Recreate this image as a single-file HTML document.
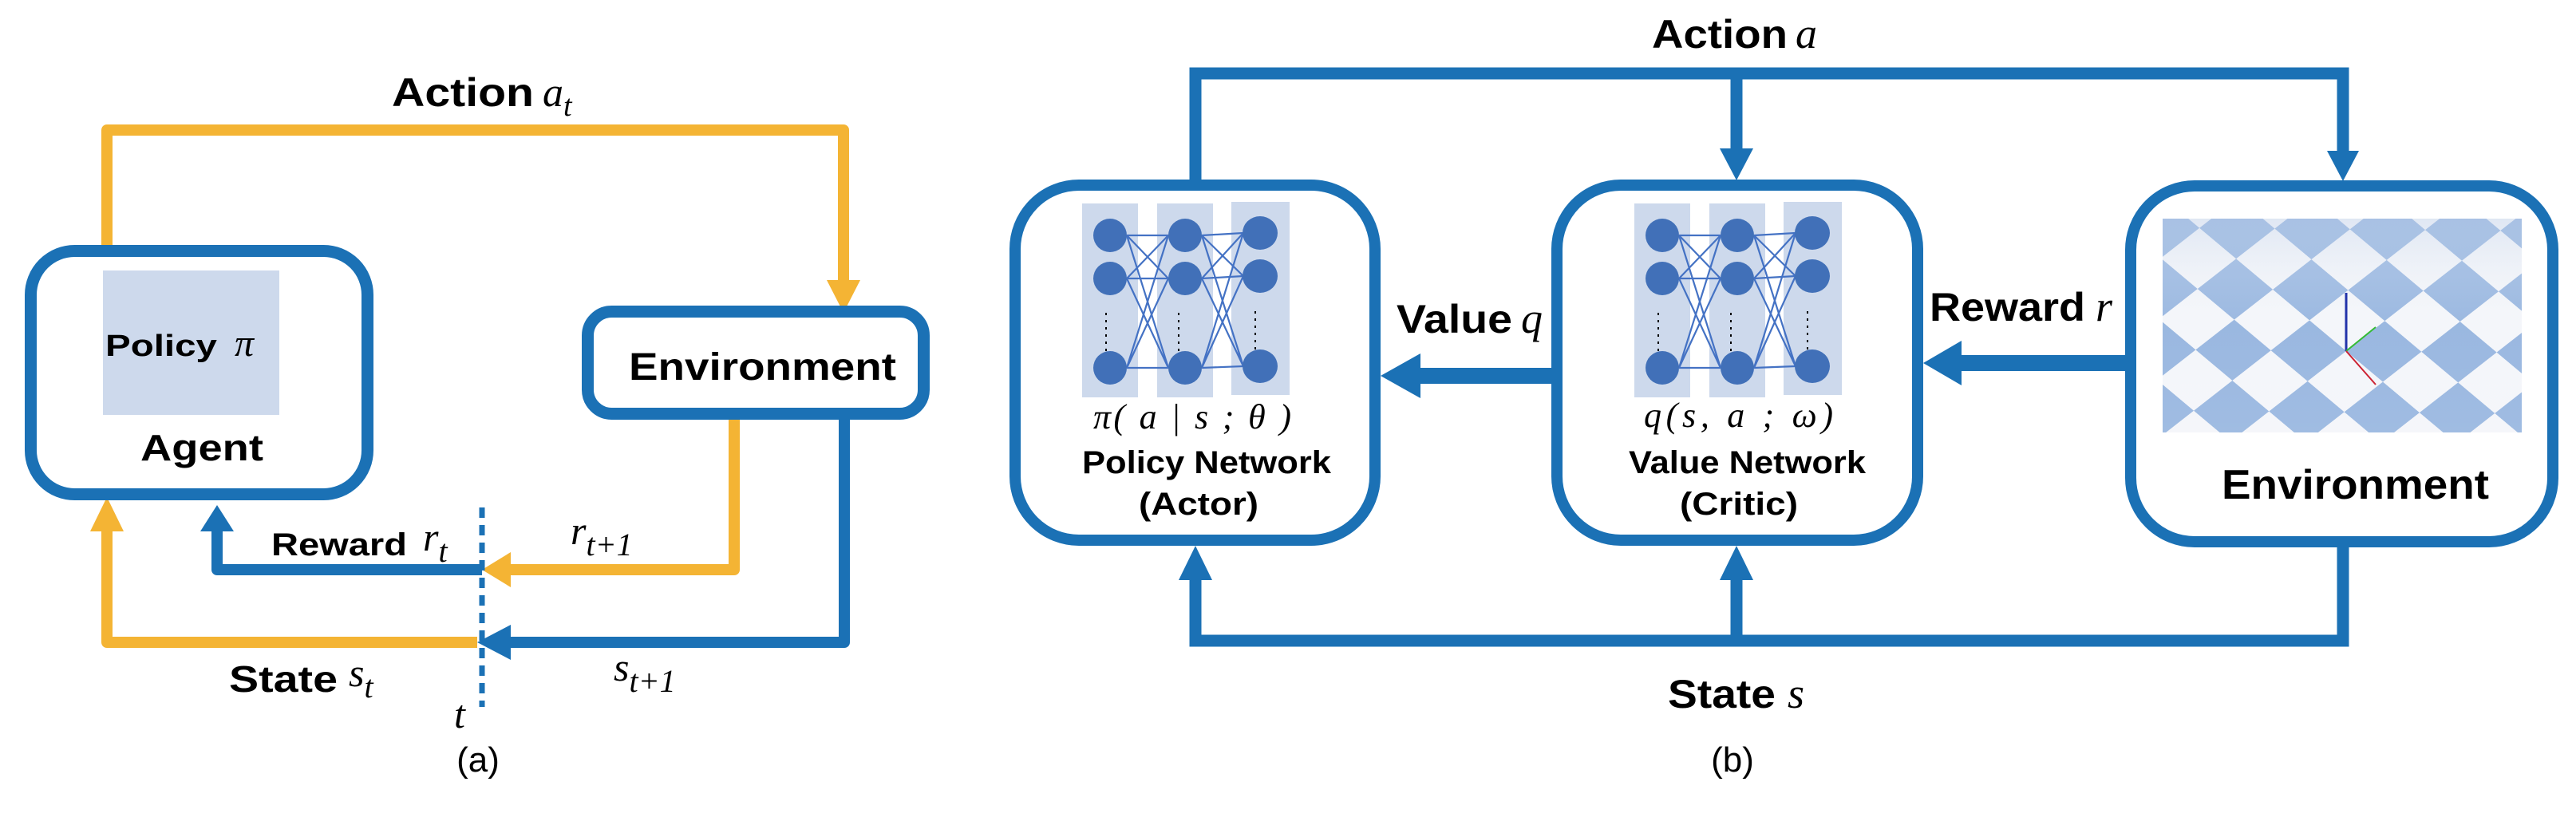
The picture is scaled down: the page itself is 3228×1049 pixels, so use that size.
<!DOCTYPE html>
<html><head><meta charset="utf-8"><style>
html,body{margin:0;padding:0;background:#fff;}
svg{display:block;}
.b{font-family:"Liberation Sans",sans-serif;font-weight:bold;fill:#000;}
.m{font-family:"Liberation Serif",serif;font-style:italic;fill:#000;}
.r{font-family:"Liberation Sans",sans-serif;fill:#000;}
</style></head><body>
<svg width="3228" height="1049" viewBox="0 0 3228 1049" xmlns="http://www.w3.org/2000/svg">
<defs>
<g id="net">
  <rect x="1356" y="255" width="70" height="243" fill="#cdd9ec"/>
  <rect x="1450" y="255" width="70" height="243" fill="#cdd9ec"/>
  <rect x="1543" y="253" width="73" height="242" fill="#cdd9ec"/>
  <g stroke="#4472c4" stroke-width="2.2" fill="none">
    <line x1="1412" y1="295" x2="1464" y2="295"/><line x1="1412" y1="295" x2="1464" y2="349"/><line x1="1412" y1="295" x2="1464" y2="461"/>
    <line x1="1412" y1="349" x2="1464" y2="295"/><line x1="1412" y1="349" x2="1464" y2="349"/><line x1="1412" y1="349" x2="1464" y2="461"/>
    <line x1="1412" y1="461" x2="1464" y2="295"/><line x1="1412" y1="461" x2="1464" y2="349"/><line x1="1412" y1="461" x2="1464" y2="461"/>
    <line x1="1506" y1="295" x2="1558" y2="292"/><line x1="1506" y1="295" x2="1558" y2="346"/><line x1="1506" y1="295" x2="1558" y2="459"/>
    <line x1="1506" y1="349" x2="1558" y2="292"/><line x1="1506" y1="349" x2="1558" y2="346"/><line x1="1506" y1="349" x2="1558" y2="459"/>
    <line x1="1506" y1="461" x2="1558" y2="292"/><line x1="1506" y1="461" x2="1558" y2="346"/><line x1="1506" y1="461" x2="1558" y2="459"/>
  </g>
  <g fill="#4170b8">
    <ellipse cx="1391" cy="295" rx="21" ry="21"/><ellipse cx="1391" cy="349" rx="21" ry="21"/><ellipse cx="1391" cy="461" rx="21" ry="21"/>
    <ellipse cx="1485" cy="295" rx="21" ry="21"/><ellipse cx="1485" cy="349" rx="21" ry="21"/><ellipse cx="1485" cy="461" rx="21" ry="21"/>
    <ellipse cx="1579" cy="292" rx="22" ry="21"/><ellipse cx="1579" cy="346" rx="22" ry="21"/><ellipse cx="1579" cy="459" rx="22" ry="21"/>
  </g>
  <g stroke="#000" stroke-width="2" stroke-dasharray="3 6">
    <line x1="1386" y1="392" x2="1386" y2="440"/><line x1="1477" y1="392" x2="1477" y2="440"/><line x1="1573" y1="390" x2="1573" y2="438"/>
  </g>
</g>
<pattern id="chk" width="120" height="120" patternUnits="userSpaceOnUse" patternTransform="translate(2940,440) rotate(40) skewX(-12)">
  <rect width="120" height="120" fill="#8fb0dd"/>
  <rect width="60" height="60" fill="#f3f5f9"/>
  <rect x="60" y="60" width="60" height="60" fill="#f3f5f9"/>
</pattern>
<linearGradient id="fade" x1="0" y1="0" x2="0" y2="1">
  <stop offset="0" stop-color="#c8d6ec" stop-opacity="0.45"/>
  <stop offset="0.5" stop-color="#ffffff" stop-opacity="0.1"/>
  <stop offset="1" stop-color="#ffffff" stop-opacity="0.15"/>
</linearGradient>
</defs>

<!-- ===== (a) ===== -->
<g fill="none" stroke-width="14" stroke-linejoin="round">
  <path d="M134,310 V163 H1057 V356" stroke="#f4b434"/>
  <path d="M920,526 V714 H636" stroke="#f4b434"/>
  <path d="M598,805 H134 V660" stroke="#f4b434"/>
  <path d="M604,714 H272 V662" stroke="#1b71b5"/>
  <path d="M1058,526 V805 H636" stroke="#1b71b5"/>
</g>
<polygon points="1036,351 1078,351 1057,392" fill="#f4b434"/>
<polygon points="604,714 640,692 640,736" fill="#f4b434"/>
<polygon points="134,623 113,666 155,666" fill="#f4b434"/>
<polygon points="272,633 251,666 293,666" fill="#1b71b5"/>
<polygon points="598,805 640,783 640,827" fill="#1b71b5"/>
<line x1="604" y1="636" x2="604" y2="886" stroke="#1b71b5" stroke-width="7" stroke-dasharray="13 9"/>

<rect x="38.5" y="314.5" width="422" height="305" rx="55" fill="#fff" stroke="#1b71b5" stroke-width="15"/>
<rect x="129" y="339" width="221" height="181" fill="#cdd9ec"/>
<text class="b" x="132" y="446" font-size="38" textLength="140" lengthAdjust="spacingAndGlyphs">Policy</text>
<text class="m" x="294" y="446" font-size="48">π</text>
<text class="b" x="176" y="577" font-size="46" textLength="154" lengthAdjust="spacingAndGlyphs">Agent</text>

<rect x="736.5" y="390.5" width="421" height="128" rx="30" fill="#fff" stroke="#1b71b5" stroke-width="15"/>
<text class="b" x="788" y="476" font-size="48" textLength="335" lengthAdjust="spacingAndGlyphs">Environment</text>

<text class="b" x="491" y="133" font-size="50" textLength="178" lengthAdjust="spacingAndGlyphs">Action</text>
<text class="m" x="680" y="133" font-size="52">a<tspan font-size="38" dy="12">t</tspan></text>

<text class="b" x="340" y="696" font-size="40" textLength="170" lengthAdjust="spacingAndGlyphs">Reward</text>
<text class="m" x="530" y="690" font-size="50">r<tspan font-size="40" dy="14">t</tspan></text>
<text class="m" x="715" y="682" font-size="50">r<tspan font-size="40" dy="14">t+1</tspan></text>
<text class="b" x="287" y="867" font-size="46" textLength="136" lengthAdjust="spacingAndGlyphs">State</text>
<text class="m" x="437" y="860" font-size="50">s<tspan font-size="40" dy="14">t</tspan></text>
<text class="m" x="769" y="853" font-size="50">s<tspan font-size="40" dy="14">t+1</tspan></text>
<text class="m" x="569" y="912" font-size="50">t</text>
<text class="r" x="599" y="967" font-size="44" text-anchor="middle">(a)</text>

<!-- ===== (b) ===== -->
<g fill="none" stroke="#1b71b5" stroke-width="15">
  <path d="M1498,228 V92 H2936 V192"/>
  <path d="M2176,92 V190"/>
  <path d="M1498,722 V803 H2936 V682"/>
  <path d="M2176,803 V722"/>
</g>
<polygon points="2916,189 2956,189 2936,227" fill="#1b71b5"/>
<polygon points="2155,186 2197,186 2176,226" fill="#1b71b5"/>
<polygon points="1498,684 1477,727 1519,727" fill="#1b71b5"/>
<polygon points="2176,684 2155,727 2197,727" fill="#1b71b5"/>
<rect x="1775" y="461" width="170" height="20" fill="#1b71b5"/>
<polygon points="1730,471 1780,443 1780,499" fill="#1b71b5"/>
<rect x="2455" y="445" width="210" height="20" fill="#1b71b5"/>
<polygon points="2410,455 2458,427 2458,483" fill="#1b71b5"/>

<rect x="1272" y="232" width="451" height="445" rx="80" fill="#fff" stroke="#1b71b5" stroke-width="14"/>
<rect x="1951" y="232" width="452" height="445" rx="80" fill="#fff" stroke="#1b71b5" stroke-width="14"/>
<rect x="2670" y="233" width="529" height="446" rx="80" fill="#fff" stroke="#1b71b5" stroke-width="14"/>

<use href="#net"/>
<use href="#net" transform="translate(692,0)"/>

<rect x="2710" y="274" width="450" height="268" fill="url(#chk)"/>
<rect x="2710" y="274" width="450" height="268" fill="url(#fade)"/>
<line x1="2940" y1="367" x2="2940" y2="440" stroke="#2233aa" stroke-width="3"/>
<line x1="2940" y1="440" x2="2977" y2="410" stroke="#33bb33" stroke-width="2"/>
<line x1="2940" y1="440" x2="2977" y2="482" stroke="#cc2233" stroke-width="2"/>

<text class="m" x="1370" y="537" font-size="44" textLength="248" lengthAdjust="spacing">π( a  | s ; θ )</text>
<text class="b" x="1356" y="593" font-size="40" textLength="312" lengthAdjust="spacingAndGlyphs">Policy Network</text>
<text class="b" x="1427" y="645" font-size="40" textLength="150" lengthAdjust="spacingAndGlyphs">(Actor)</text>

<text class="m" x="2060" y="535" font-size="44" textLength="237" lengthAdjust="spacing">q(s, a ; ω)</text>
<text class="b" x="2041" y="593" font-size="40" textLength="297" lengthAdjust="spacingAndGlyphs">Value Network</text>
<text class="b" x="2105" y="645" font-size="40" textLength="148" lengthAdjust="spacingAndGlyphs">(Critic)</text>

<text class="b" x="2784" y="625" font-size="52" textLength="335" lengthAdjust="spacingAndGlyphs">Environment</text>

<text class="b" x="2070" y="60" font-size="50" textLength="170" lengthAdjust="spacingAndGlyphs">Action</text>
<text class="m" x="2250" y="60" font-size="54">a</text>
<text class="b" x="1750" y="417" font-size="50" textLength="145" lengthAdjust="spacingAndGlyphs">Value</text>
<text class="m" x="1906" y="417" font-size="54">q</text>
<text class="b" x="2418" y="402" font-size="50" textLength="195" lengthAdjust="spacingAndGlyphs">Reward</text>
<text class="m" x="2626" y="402" font-size="54">r</text>
<text class="b" x="2090" y="887" font-size="50" textLength="135" lengthAdjust="spacingAndGlyphs">State</text>
<text class="m" x="2240" y="887" font-size="54">s</text>
<text class="r" x="2171" y="967" font-size="44" text-anchor="middle">(b)</text>
</svg>
</body></html>
